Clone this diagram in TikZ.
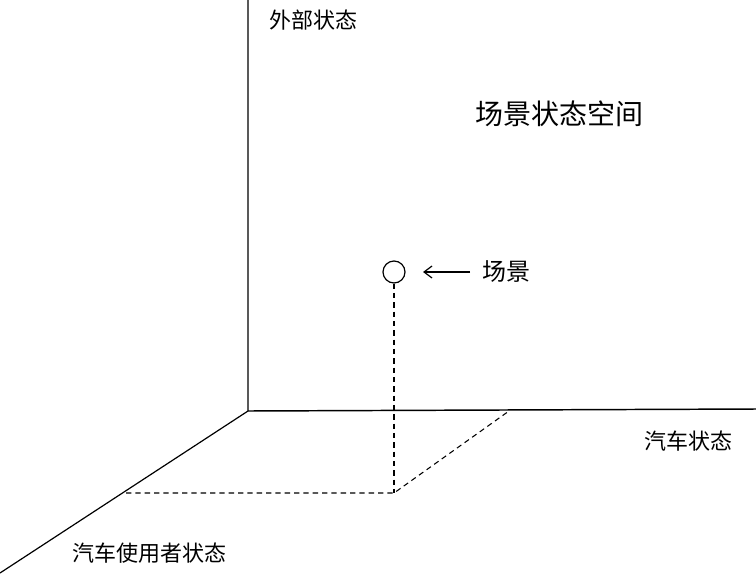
\documentclass[tikz,border=0pt]{standalone}
\usepackage{fontspec}
\newfontfamily\cjk{Noto Sans CJK SC}
\usetikzlibrary{arrows.meta}
\begin{document}
\begin{tikzpicture}[x=0.75pt,y=-0.75pt,
  axis/.style={line width=1.1pt,black},
  guide/.style={dashed,line width=0.8pt,dash pattern=on 4pt off 3pt},
  lbl/.style={font=\cjk\fontsize{16.5}{18}\selectfont,inner sep=0pt},
  big/.style={font=\cjk\fontsize{21}{24}\selectfont,inner sep=0pt},
  mid/.style={font=\cjk\fontsize{18}{20}\selectfont,inner sep=0pt}]
\useasboundingbox (0,0) rectangle (756,578);
\coordinate (O) at (248,411);
\coordinate (top) at (248,0);
\coordinate (right) at (756,409);
\coordinate (left) at (0,573);
\coordinate (P) at (394,493);
\coordinate (Px) at (126,493);
\coordinate (Py) at (509,411);
\draw[axis] (top) -- (O) -- (right);
\draw[line width=0.9pt] (O) -- (left);
\node[draw,circle,line width=0.9pt,minimum size=16.5pt,inner sep=0pt] (S) at (394,272) {};
\draw[guide] (S.south) -- (P);
\draw[guide] (Px) -- (P) -- (Py);
\node[mid] (sl) at (506,272) {场景};
\coordinate (ae) at (470,272);
\draw[-{Straight Barb[length=6pt,width=9pt]},line width=0.9pt] (ae) -- (423,272);
\node[lbl] (ext) at (313,20) {外部状态};
\node[big] (space) at (559,114) {场景状态空间};
\node[lbl] (car) at (688,441) {汽车状态};
\node[lbl] (user) at (149,553) {汽车使用者状态};
\end{tikzpicture}
\end{document}
